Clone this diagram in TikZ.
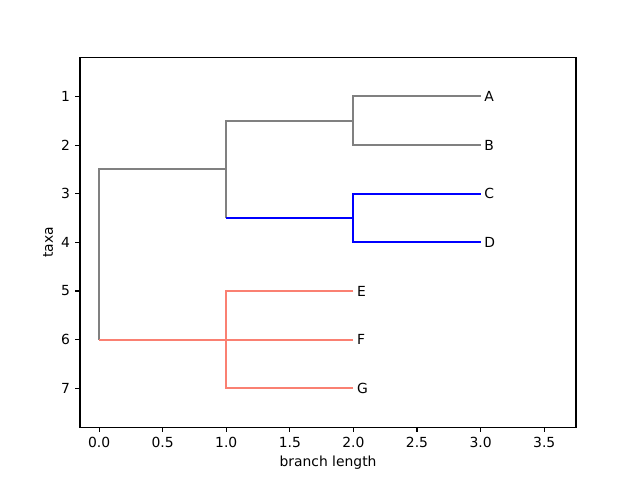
\documentclass[tikz,border=0pt]{standalone}
\usepackage{fontspec}
\setmainfont{DejaVu Sans}
\usepackage{xcolor}
\usetikzlibrary{positioning}
\definecolor{treegray}{HTML}{808080}
\definecolor{treeblue}{HTML}{0000FF}
\definecolor{treesalmon}{HTML}{FA8072}
\newcommand{\plotfont}{\fontsize{10.42}{12.5}\selectfont}

\begin{document}
\begin{tikzpicture}[
                  x=95.385pt, y=-36.474pt,
                  branch/.style={line width=1.5pt},
                  spine/.style={line width=0.83pt},
                  tickmark/.style={line width=0.83pt},
                  ticklabel/.style={font=\plotfont, inner sep=0pt},
                  taxon/.style={font=\plotfont, inner sep=0pt},
                  axlabel/.style={font=\plotfont, inner sep=0pt},
            ]
            \useasboundingbox (-0.779,-0.984) rectangle (4.253,8.886);

            % Axes frame
            \coordinate (ll) at (-0.15,7.8);
            \coordinate (ur) at (3.75,0.2);
            \draw[spine] (ll) rectangle (ur);

            % Ticks
            \foreach \v in {0.0,0.5,1.0,1.5,2.0,2.5,3.0,3.5} {
                  \draw[tickmark] (\v,7.8) -- ++(0pt,-3.65pt) coordinate (xt);
                  \node[ticklabel, anchor=north, below=3.65pt of xt] (xl\v) {\v};
            }
            \foreach \v in {1,...,7} {
                  \draw[tickmark] (-0.15,\v) -- ++(-3.65pt,0pt) coordinate (yt);
                  \node[ticklabel, anchor=east, left=3.65pt of yt] (yl\v) {\v};
            }

            % Axis labels
            \node[axlabel] (xlab) at (1.8,8.536) {branch length};
            \node[axlabel, rotate=90] (ylab) at (-0.40,4) {taxa};

            % Clades
            \coordinate (root) at (0,4.25);
            \coordinate (upper) at (1,2.5);
            \coordinate (ab) at (2,1.5);
            \coordinate (cd) at (2,3.5);
            \coordinate (efg) at (1,6);

            % Leaves
            \coordinate (a) at (3,1);
            \coordinate (b) at (3,2);
            \coordinate (c) at (3,3);
            \coordinate (d) at (3,4);
            \coordinate (e) at (2,5);
            \coordinate (f) at (2,6);
            \coordinate (g) at (2,7);
            \node[taxon, right=2.6pt of a] (A) {A};
            \node[taxon, right=2.6pt of b] (B) {B};
            \node[taxon, right=2.6pt of c] (C) {C};
            \node[taxon, right=2.6pt of d] (D) {D};
            \node[taxon, right=2.6pt of e] (E) {E};
            \node[taxon, right=2.6pt of f] (F) {F};
            \node[taxon, right=2.6pt of g] (G) {G};

            % Branches
            \draw[branch, treegray] (upper) -| (root) -- (root |- efg);
            \draw[branch, treesalmon] (root |- efg) -- (efg);
            \draw[branch, treegray] (ab) -| (upper) -- (upper |- cd);
            \draw[branch, treeblue] (upper |- cd) -- (cd);
            \draw[branch, treegray] (a) -| (ab) |- (b);
            \draw[branch, treeblue] (c) -| (cd) |- (d);
            \draw[branch, treesalmon] (e) -| (efg) |- (g);
            \draw[branch, treesalmon] (efg) -- (f);

      \end{tikzpicture}
\end{document}
